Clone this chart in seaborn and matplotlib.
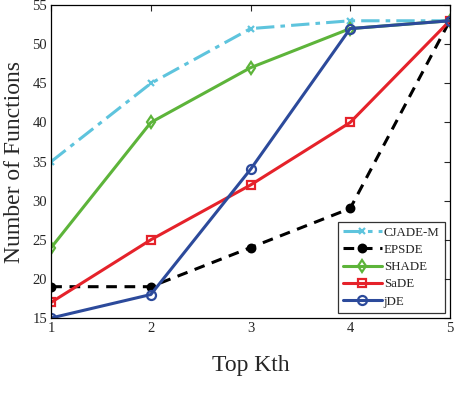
import matplotlib
matplotlib.use('Agg')
import matplotlib.pyplot as plt
import seaborn as sns
import pandas as pd

top_k = [1, 2, 3, 4, 5]
cjade_m = [35, 45, 52, 53, 53]
epsde = [19, 19, 24, 29, 53]
shade = [24, 40, 47, 52, 53]
sade = [17, 25, 32, 40, 53]
jde = [15, 18, 34, 52, 53]

sns.set_style('white')
plt.rcParams['font.family'] = ['Liberation Serif', 'DejaVu Serif']

fig = plt.figure(figsize=(4.74, 3.95), dpi=100)
ax = fig.add_axes([0.108, 0.195, 0.841, 0.792])

series = [
    ('CJADE-M', cjade_m, '#5ec4dd', (0, (6, 2, 1.5, 2)), 'x', 'none', 5),
    ('EPSDE', epsde, 'black', (0, (3.5, 2.5)), 'o', 'black', 5.5),
    ('SHADE', shade, '#5db43a', '-', 'd', 'none', 6.5),
    ('SaDE', sade, '#e5222a', '-', 's', 'none', 6),
    ('jDE', jde, '#2c4a9b', '-', 'o', 'none', 6.5),
]
for name, vals, col, ls, mk, mfc, ms in series:
    df = pd.DataFrame({'k': top_k, 'n': vals})
    sns.lineplot(data=df, x='k', y='n', ax=ax, color=col, linestyle=ls,
                 marker=mk, markersize=ms, markerfacecolor=mfc,
                 markeredgecolor=col, markeredgewidth=1.6, linewidth=2.2,
                 label=name)

ax.set_xlim(1, 5)
ax.set_ylim(15, 55)
ax.set_xticks([1, 2, 3, 4, 5])
ax.set_yticks(range(15, 56, 5))
ax.tick_params(direction='in', top=True, right=True, labelsize=10.5,
               length=4, width=0.8, pad=3)
for sp in ax.spines.values():
    sp.set_color('black')
    sp.set_linewidth(0.9)
ax.set_xlabel('Top Kth', fontsize=17, labelpad=14)
ax.set_ylabel('Number of Functions', fontsize=17, labelpad=5)

leg = ax.legend(loc='lower right', fontsize=9.3, frameon=True, fancybox=False,
                edgecolor='black', borderpad=0.4, labelspacing=0.4,
                handlelength=3.0, handletextpad=0.15, borderaxespad=0.4)
leg.get_frame().set_linewidth(0.9)

fig.savefig('out.png', dpi=100)
